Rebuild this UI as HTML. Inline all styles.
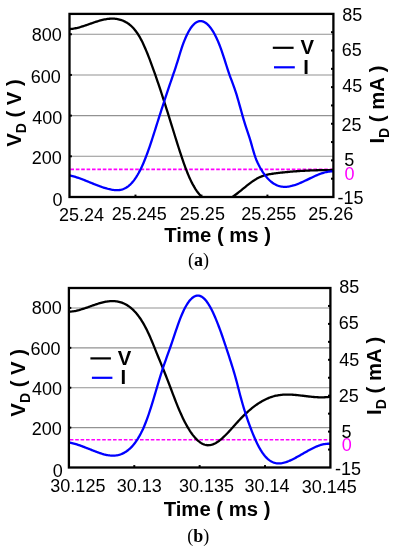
<!DOCTYPE html>
<html><head><meta charset="utf-8"><title>Figure</title>
<style>html,body{margin:0;padding:0;background:#fff;}svg{display:block;}
.tk{font-family:"Liberation Sans",Arial,sans-serif;font-size:18px;fill:#000;}
.tkm{font-family:"Liberation Sans",Arial,sans-serif;font-size:18px;fill:#ff00ff;}
.ttl{font-family:"Liberation Sans",Arial,sans-serif;font-size:20.3px;font-weight:bold;fill:#000;}
.leg{font-family:"Liberation Sans",Arial,sans-serif;font-size:20.3px;font-weight:bold;fill:#000;}
.sub{font-size:14px;font-weight:bold;}
.cap{font-family:"Liberation Serif","Times New Roman",serif;font-size:18px;fill:#000;}
.capb{font-weight:bold;}
</style></head>
<body><svg width="397" height="550" viewBox="0 0 397 550">
<rect width="397" height="550" fill="#fff"/>
<clipPath id="ca"><rect x="69.5" y="13.9" width="263.9" height="183.1"/></clipPath>
<line x1="69.5" x2="333.4" y1="156.31" y2="156.31" stroke="#929292" stroke-width="1.1"/>
<line x1="69.5" x2="333.4" y1="115.62" y2="115.62" stroke="#929292" stroke-width="1.1"/>
<line x1="69.5" x2="333.4" y1="74.93" y2="74.93" stroke="#929292" stroke-width="1.1"/>
<line x1="69.5" x2="333.4" y1="34.24" y2="34.24" stroke="#929292" stroke-width="1.1"/>
<line x1="70.4" x2="332.4" y1="169.4" y2="169.4" stroke="#ff00ff" stroke-width="1.6" stroke-dasharray="3.6 1.8"/>
<g clip-path="url(#ca)" fill="none" stroke-width="2.3" stroke-linejoin="round">
<path d="M69.5,29.08 L70.5,29.00 L71.5,28.90 L72.5,28.77 L73.5,28.62 L74.5,28.45 L75.5,28.25 L76.5,28.03 L77.5,27.80 L78.5,27.54 L79.5,27.28 L80.5,26.99 L81.5,26.70 L82.5,26.39 L83.5,26.07 L84.5,25.74 L85.5,25.41 L86.5,25.07 L87.5,24.72 L88.5,24.37 L89.5,24.02 L90.5,23.67 L91.5,23.32 L92.5,22.97 L93.5,22.62 L94.5,22.28 L95.5,21.95 L96.5,21.63 L97.5,21.31 L98.5,21.00 L99.5,20.71 L100.5,20.43 L101.5,20.17 L102.5,19.92 L103.5,19.68 L104.5,19.47 L105.5,19.28 L106.5,19.11 L107.5,18.96 L108.5,18.84 L109.5,18.75 L110.5,18.68 L111.5,18.64 L112.5,18.63 L113.5,18.65 L114.5,18.71 L115.5,18.80 L116.5,18.92 L117.5,19.08 L118.5,19.29 L119.5,19.53 L120.5,19.81 L121.5,20.14 L122.5,20.51 L123.5,20.92 L124.5,21.38 L125.5,21.90 L126.5,22.46 L127.5,23.09 L128.5,23.78 L129.5,24.53 L130.5,25.36 L131.5,26.26 L132.5,27.24 L133.5,28.30 L134.5,29.46 L135.5,30.70 L136.5,32.05 L137.5,33.49 L138.5,35.04 L139.5,36.69 L140.5,38.46 L141.5,40.35 L142.5,42.35 L143.5,44.46 L144.5,46.66 L145.5,48.96 L146.5,51.34 L147.5,53.80 L148.5,56.33 L149.5,58.92 L150.5,61.57 L151.5,64.28 L152.5,67.03 L153.5,69.81 L154.5,72.63 L155.5,75.49 L156.5,78.37 L157.5,81.29 L158.5,84.24 L159.5,87.22 L160.5,90.23 L161.5,93.26 L162.5,96.32 L163.5,99.40 L164.5,102.51 L165.5,105.64 L166.5,108.79 L167.5,111.96 L168.5,115.15 L169.5,118.36 L170.5,121.57 L171.5,124.80 L172.5,128.03 L173.5,131.27 L174.5,134.50 L175.5,137.72 L176.5,140.93 L177.5,144.12 L178.5,147.27 L179.5,150.39 L180.5,153.46 L181.5,156.47 L182.5,159.42 L183.5,162.30 L184.5,165.11 L185.5,167.82 L186.5,170.45 L187.5,172.97 L188.5,175.39 L189.5,177.68 L190.5,179.86 L191.5,181.92 L192.5,183.87 L193.5,185.70 L194.5,187.42 L195.5,189.04 L196.5,190.56 L197.5,191.98 L198.5,193.31 L199.5,194.54 L200.5,195.68 L201.5,196.74 L202.5,197.71 L203.5,198.60 L204.5,199.40 L205.5,200.13 L206.5,200.78 L207.5,201.35 L208.5,201.85 L209.5,202.28 L210.5,202.64 L211.5,202.93 L212.5,203.15 L213.5,203.31 L214.5,203.41 L215.5,203.45 L216.5,203.44 L217.5,203.36 L218.5,203.24 L219.5,203.06 L220.5,202.83 L221.5,202.55 L222.5,202.23 L223.5,201.86 L224.5,201.45 L225.5,201.00 L226.5,200.51 L227.5,199.99 L228.5,199.43 L229.5,198.85 L230.5,198.23 L231.5,197.58 L232.5,196.91 L233.5,196.21 L234.5,195.49 L235.5,194.75 L236.5,194.00 L237.5,193.23 L238.5,192.44 L239.5,191.64 L240.5,190.84 L241.5,190.03 L242.5,189.21 L243.5,188.39 L244.5,187.58 L245.5,186.77 L246.5,185.97 L247.5,185.17 L248.5,184.39 L249.5,183.62 L250.5,182.87 L251.5,182.14 L252.5,181.43 L253.5,180.75 L254.5,180.09 L255.5,179.46 L256.5,178.87 L257.5,178.31 L258.5,177.78 L259.5,177.30 L260.5,176.86 L261.5,176.45 L262.5,176.08 L263.5,175.74 L264.5,175.43 L265.5,175.14 L266.5,174.88 L267.5,174.65 L268.5,174.44 L269.5,174.24 L270.5,174.06 L271.5,173.89 L272.5,173.74 L273.5,173.60 L274.5,173.46 L275.5,173.33 L276.5,173.20 L277.5,173.07 L278.5,172.95 L279.5,172.83 L280.5,172.71 L281.5,172.60 L282.5,172.49 L283.5,172.38 L284.5,172.28 L285.5,172.17 L286.5,172.07 L287.5,171.98 L288.5,171.88 L289.5,171.79 L290.5,171.71 L291.5,171.62 L292.5,171.54 L293.5,171.46 L294.5,171.38 L295.5,171.30 L296.5,171.23 L297.5,171.16 L298.5,171.09 L299.5,171.03 L300.5,170.96 L301.5,170.90 L302.5,170.85 L303.5,170.79 L304.5,170.74 L305.5,170.68 L306.5,170.64 L307.5,170.59 L308.5,170.54 L309.5,170.50 L310.5,170.46 L311.5,170.42 L312.5,170.38 L313.5,170.35 L314.5,170.32 L315.5,170.28 L316.5,170.26 L317.5,170.23 L318.5,170.20 L319.5,170.18 L320.5,170.16 L321.5,170.14 L322.5,170.12 L323.5,170.10 L324.5,170.09 L325.5,170.07 L326.5,170.06 L327.5,170.05 L328.5,170.04 L329.5,170.03 L330.5,170.03 L331.5,170.02 L332.5,170.02 L333.4,170.02" stroke="#000"/>
<path d="M69.5,175.46 L70.5,175.67 L71.5,175.89 L72.5,176.13 L73.5,176.40 L74.5,176.67 L75.5,176.97 L76.5,177.28 L77.5,177.60 L78.5,177.94 L79.5,178.28 L80.5,178.64 L81.5,179.01 L82.5,179.39 L83.5,179.77 L84.5,180.16 L85.5,180.56 L86.5,180.96 L87.5,181.37 L88.5,181.78 L89.5,182.19 L90.5,182.60 L91.5,183.01 L92.5,183.42 L93.5,183.83 L94.5,184.23 L95.5,184.63 L96.5,185.03 L97.5,185.41 L98.5,185.80 L99.5,186.17 L100.5,186.53 L101.5,186.89 L102.5,187.23 L103.5,187.56 L104.5,187.88 L105.5,188.18 L106.5,188.47 L107.5,188.74 L108.5,189.00 L109.5,189.23 L110.5,189.45 L111.5,189.65 L112.5,189.82 L113.5,189.96 L114.5,190.07 L115.5,190.15 L116.5,190.18 L117.5,190.17 L118.5,190.11 L119.5,190.00 L120.5,189.84 L121.5,189.62 L122.5,189.33 L123.5,188.97 L124.5,188.55 L125.5,188.05 L126.5,187.47 L127.5,186.81 L128.5,186.06 L129.5,185.23 L130.5,184.29 L131.5,183.26 L132.5,182.14 L133.5,180.91 L134.5,179.58 L135.5,178.15 L136.5,176.62 L137.5,174.98 L138.5,173.24 L139.5,171.39 L140.5,169.44 L141.5,167.38 L142.5,165.21 L143.5,162.93 L144.5,160.55 L145.5,158.05 L146.5,155.44 L147.5,152.73 L148.5,149.92 L149.5,147.04 L150.5,144.08 L151.5,141.06 L152.5,138.00 L153.5,134.89 L154.5,131.75 L155.5,128.59 L156.5,125.42 L157.5,122.25 L158.5,119.10 L159.5,115.96 L160.5,112.83 L161.5,109.72 L162.5,106.63 L163.5,103.55 L164.5,100.49 L165.5,97.45 L166.5,94.42 L167.5,91.41 L168.5,88.42 L169.5,85.45 L170.5,82.50 L171.5,79.57 L172.5,76.65 L173.5,73.72 L174.5,70.77 L175.5,67.78 L176.5,64.72 L177.5,61.57 L178.5,58.33 L179.5,55.01 L180.5,51.74 L181.5,48.64 L182.5,45.71 L183.5,42.96 L184.5,40.38 L185.5,37.97 L186.5,35.74 L187.5,33.67 L188.5,31.77 L189.5,30.03 L190.5,28.45 L191.5,27.03 L192.5,25.77 L193.5,24.67 L194.5,23.71 L195.5,22.91 L196.5,22.26 L197.5,21.76 L198.5,21.40 L199.5,21.18 L200.5,21.10 L201.5,21.16 L202.5,21.36 L203.5,21.70 L204.5,22.16 L205.5,22.76 L206.5,23.48 L207.5,24.33 L208.5,25.31 L209.5,26.43 L210.5,27.67 L211.5,29.05 L212.5,30.56 L213.5,32.21 L214.5,34.00 L215.5,35.92 L216.5,37.97 L217.5,40.17 L218.5,42.51 L219.5,44.99 L220.5,47.61 L221.5,50.37 L222.5,53.27 L223.5,56.30 L224.5,59.42 L225.5,62.58 L226.5,65.73 L227.5,68.85 L228.5,71.88 L229.5,74.77 L230.5,77.53 L231.5,80.20 L232.5,82.85 L233.5,85.54 L234.5,88.34 L235.5,91.30 L236.5,94.47 L237.5,97.81 L238.5,101.27 L239.5,104.82 L240.5,108.42 L241.5,112.03 L242.5,115.59 L243.5,119.08 L244.5,122.45 L245.5,125.66 L246.5,128.68 L247.5,131.60 L248.5,134.52 L249.5,137.56 L250.5,140.82 L251.5,144.33 L252.5,147.94 L253.5,151.43 L254.5,154.69 L255.5,157.64 L256.5,160.23 L257.5,162.49 L258.5,164.53 L259.5,166.44 L260.5,168.25 L261.5,169.96 L262.5,171.57 L263.5,173.08 L264.5,174.50 L265.5,175.83 L266.5,177.06 L267.5,178.22 L268.5,179.29 L269.5,180.27 L270.5,181.18 L271.5,182.01 L272.5,182.76 L273.5,183.45 L274.5,184.06 L275.5,184.60 L276.5,185.08 L277.5,185.50 L278.5,185.85 L279.5,186.15 L280.5,186.39 L281.5,186.57 L282.5,186.71 L283.5,186.79 L284.5,186.83 L285.5,186.83 L286.5,186.78 L287.5,186.69 L288.5,186.56 L289.5,186.40 L290.5,186.21 L291.5,185.99 L292.5,185.73 L293.5,185.45 L294.5,185.15 L295.5,184.82 L296.5,184.46 L297.5,184.09 L298.5,183.70 L299.5,183.29 L300.5,182.86 L301.5,182.43 L302.5,181.98 L303.5,181.52 L304.5,181.05 L305.5,180.57 L306.5,180.09 L307.5,179.61 L308.5,179.12 L309.5,178.63 L310.5,178.15 L311.5,177.67 L312.5,177.19 L313.5,176.72 L314.5,176.26 L315.5,175.81 L316.5,175.38 L317.5,174.95 L318.5,174.54 L319.5,174.15 L320.5,173.78 L321.5,173.42 L322.5,173.09 L323.5,172.79 L324.5,172.51 L325.5,172.25 L326.5,172.03 L327.5,171.84 L328.5,171.68 L329.5,171.55 L330.5,171.46 L331.5,171.41 L332.5,171.39 L333.4,171.41" stroke="#0000ff"/>
</g>
<line x1="69.5" x2="71.9" y1="156.31" y2="156.31" stroke="#000" stroke-width="2"/>
<line x1="69.5" x2="71.9" y1="115.62" y2="115.62" stroke="#000" stroke-width="2"/>
<line x1="69.5" x2="71.9" y1="74.93" y2="74.93" stroke="#000" stroke-width="2"/>
<line x1="69.5" x2="71.9" y1="34.24" y2="34.24" stroke="#000" stroke-width="2"/>
<line x1="331.0" x2="333.4" y1="178.69" y2="178.69" stroke="#000" stroke-width="2"/>
<line x1="331.0" x2="333.4" y1="160.38" y2="160.38" stroke="#000" stroke-width="2"/>
<line x1="331.0" x2="333.4" y1="142.07" y2="142.07" stroke="#000" stroke-width="2"/>
<line x1="331.0" x2="333.4" y1="123.76" y2="123.76" stroke="#000" stroke-width="2"/>
<line x1="331.0" x2="333.4" y1="105.45" y2="105.45" stroke="#000" stroke-width="2"/>
<line x1="331.0" x2="333.4" y1="87.14" y2="87.14" stroke="#000" stroke-width="2"/>
<line x1="331.0" x2="333.4" y1="68.83" y2="68.83" stroke="#000" stroke-width="2"/>
<line x1="331.0" x2="333.4" y1="50.52" y2="50.52" stroke="#000" stroke-width="2"/>
<line x1="331.0" x2="333.4" y1="32.21" y2="32.21" stroke="#000" stroke-width="2"/>
<line x1="135.47" x2="135.47" y1="194.6" y2="197.0" stroke="#000" stroke-width="2"/>
<line x1="201.45" x2="201.45" y1="194.6" y2="197.0" stroke="#000" stroke-width="2"/>
<line x1="267.42" x2="267.42" y1="194.6" y2="197.0" stroke="#000" stroke-width="2"/>
<rect x="69.5" y="13.9" width="263.9" height="183.1" fill="none" stroke="#000" stroke-width="2.3"/>
<clipPath id="cb"><rect x="68.9" y="288.0" width="261.5" height="179.5"/></clipPath>
<line x1="68.9" x2="330.4" y1="427.61" y2="427.61" stroke="#929292" stroke-width="1.1"/>
<line x1="68.9" x2="330.4" y1="387.72" y2="387.72" stroke="#929292" stroke-width="1.1"/>
<line x1="68.9" x2="330.4" y1="347.83" y2="347.83" stroke="#929292" stroke-width="1.1"/>
<line x1="68.9" x2="330.4" y1="307.94" y2="307.94" stroke="#929292" stroke-width="1.1"/>
<line x1="69.80000000000001" x2="329.4" y1="439.8" y2="439.8" stroke="#ff00ff" stroke-width="1.6" stroke-dasharray="3.6 1.8"/>
<g clip-path="url(#cb)" fill="none" stroke-width="2.3" stroke-linejoin="round">
<path d="M68.9,311.71 L69.9,311.66 L70.9,311.58 L71.9,311.48 L72.9,311.34 L73.9,311.19 L74.9,311.01 L75.9,310.81 L76.9,310.58 L77.9,310.34 L78.9,310.09 L79.9,309.81 L80.9,309.52 L81.9,309.22 L82.9,308.91 L83.9,308.58 L84.9,308.25 L85.9,307.91 L86.9,307.57 L87.9,307.21 L88.9,306.86 L89.9,306.50 L90.9,306.15 L91.9,305.79 L92.9,305.44 L93.9,305.09 L94.9,304.75 L95.9,304.41 L96.9,304.08 L97.9,303.76 L98.9,303.45 L99.9,303.16 L100.9,302.88 L101.9,302.61 L102.9,302.36 L103.9,302.13 L104.9,301.92 L105.9,301.73 L106.9,301.56 L107.9,301.41 L108.9,301.29 L109.9,301.20 L110.9,301.13 L111.9,301.10 L112.9,301.09 L113.9,301.12 L114.9,301.18 L115.9,301.28 L116.9,301.41 L117.9,301.58 L118.9,301.79 L119.9,302.04 L120.9,302.34 L121.9,302.67 L122.9,303.06 L123.9,303.49 L124.9,303.96 L125.9,304.49 L126.9,305.07 L127.9,305.70 L128.9,306.38 L129.9,307.12 L130.9,307.92 L131.9,308.77 L132.9,309.69 L133.9,310.67 L134.9,311.72 L135.9,312.83 L136.9,314.02 L137.9,315.27 L138.9,316.60 L139.9,318.00 L140.9,319.48 L141.9,321.04 L142.9,322.68 L143.9,324.40 L144.9,326.21 L145.9,328.10 L146.9,330.08 L147.9,332.15 L148.9,334.32 L149.9,336.56 L150.9,338.88 L151.9,341.25 L152.9,343.67 L153.9,346.12 L154.9,348.60 L155.9,351.08 L156.9,353.56 L157.9,356.03 L158.9,358.49 L159.9,360.94 L160.9,363.39 L161.9,365.84 L162.9,368.30 L163.9,370.77 L164.9,373.27 L165.9,375.78 L166.9,378.32 L167.9,380.90 L168.9,383.50 L169.9,386.13 L170.9,388.77 L171.9,391.42 L172.9,394.05 L173.9,396.68 L174.9,399.28 L175.9,401.84 L176.9,404.36 L177.9,406.83 L178.9,409.24 L179.9,411.58 L180.9,413.84 L181.9,416.03 L182.9,418.15 L183.9,420.19 L184.9,422.15 L185.9,424.04 L186.9,425.86 L187.9,427.59 L188.9,429.25 L189.9,430.83 L190.9,432.33 L191.9,433.76 L192.9,435.10 L193.9,436.36 L194.9,437.54 L195.9,438.64 L196.9,439.65 L197.9,440.59 L198.9,441.44 L199.9,442.20 L200.9,442.88 L201.9,443.48 L202.9,443.99 L203.9,444.41 L204.9,444.75 L205.9,445.00 L206.9,445.16 L207.9,445.23 L208.9,445.22 L209.9,445.12 L210.9,444.93 L211.9,444.67 L212.9,444.34 L213.9,443.94 L214.9,443.46 L215.9,442.92 L216.9,442.33 L217.9,441.67 L218.9,440.96 L219.9,440.20 L220.9,439.39 L221.9,438.53 L222.9,437.64 L223.9,436.71 L224.9,435.74 L225.9,434.74 L226.9,433.72 L227.9,432.67 L228.9,431.60 L229.9,430.52 L230.9,429.42 L231.9,428.31 L232.9,427.19 L233.9,426.07 L234.9,424.95 L235.9,423.83 L236.9,422.72 L237.9,421.62 L238.9,420.53 L239.9,419.46 L240.9,418.40 L241.9,417.37 L242.9,416.36 L243.9,415.37 L244.9,414.40 L245.9,413.45 L246.9,412.53 L247.9,411.62 L248.9,410.74 L249.9,409.88 L250.9,409.04 L251.9,408.22 L252.9,407.43 L253.9,406.66 L254.9,405.91 L255.9,405.19 L256.9,404.48 L257.9,403.80 L258.9,403.15 L259.9,402.52 L260.9,401.91 L261.9,401.32 L262.9,400.76 L263.9,400.23 L264.9,399.71 L265.9,399.23 L266.9,398.76 L267.9,398.33 L268.9,397.91 L269.9,397.53 L270.9,397.16 L271.9,396.83 L272.9,396.52 L273.9,396.23 L274.9,395.97 L275.9,395.74 L276.9,395.53 L277.9,395.34 L278.9,395.17 L279.9,395.03 L280.9,394.91 L281.9,394.81 L282.9,394.72 L283.9,394.66 L284.9,394.61 L285.9,394.58 L286.9,394.56 L287.9,394.56 L288.9,394.58 L289.9,394.60 L290.9,394.64 L291.9,394.69 L292.9,394.75 L293.9,394.82 L294.9,394.90 L295.9,394.99 L296.9,395.09 L297.9,395.19 L298.9,395.30 L299.9,395.41 L300.9,395.52 L301.9,395.64 L302.9,395.76 L303.9,395.89 L304.9,396.01 L305.9,396.13 L306.9,396.25 L307.9,396.37 L308.9,396.49 L309.9,396.60 L310.9,396.71 L311.9,396.81 L312.9,396.91 L313.9,397.00 L314.9,397.08 L315.9,397.15 L316.9,397.21 L317.9,397.26 L318.9,397.30 L319.9,397.33 L320.9,397.35 L321.9,397.35 L322.9,397.33 L323.9,397.31 L324.9,397.26 L325.9,397.20 L326.9,397.12 L327.9,397.02 L328.9,396.90 L329.9,396.76 L330.4,396.68" stroke="#000"/>
<path d="M68.9,442.40 L69.9,442.59 L70.9,442.81 L71.9,443.04 L72.9,443.30 L73.9,443.56 L74.9,443.85 L75.9,444.15 L76.9,444.46 L77.9,444.78 L78.9,445.12 L79.9,445.46 L80.9,445.82 L81.9,446.18 L82.9,446.55 L83.9,446.93 L84.9,447.32 L85.9,447.71 L86.9,448.10 L87.9,448.50 L88.9,448.90 L89.9,449.30 L90.9,449.69 L91.9,450.09 L92.9,450.49 L93.9,450.88 L94.9,451.27 L95.9,451.66 L96.9,452.03 L97.9,452.40 L98.9,452.76 L99.9,453.11 L100.9,453.44 L101.9,453.75 L102.9,454.05 L103.9,454.33 L104.9,454.58 L105.9,454.81 L106.9,455.02 L107.9,455.20 L108.9,455.35 L109.9,455.47 L110.9,455.56 L111.9,455.61 L112.9,455.63 L113.9,455.61 L114.9,455.55 L115.9,455.44 L116.9,455.30 L117.9,455.11 L118.9,454.87 L119.9,454.58 L120.9,454.24 L121.9,453.85 L122.9,453.40 L123.9,452.90 L124.9,452.34 L125.9,451.72 L126.9,451.04 L127.9,450.29 L128.9,449.48 L129.9,448.60 L130.9,447.65 L131.9,446.62 L132.9,445.51 L133.9,444.31 L134.9,443.03 L135.9,441.65 L136.9,440.18 L137.9,438.62 L138.9,436.95 L139.9,435.17 L140.9,433.28 L141.9,431.28 L142.9,429.16 L143.9,426.91 L144.9,424.55 L145.9,422.05 L146.9,419.42 L147.9,416.66 L148.9,413.75 L149.9,410.73 L150.9,407.60 L151.9,404.39 L152.9,401.11 L153.9,397.77 L154.9,394.40 L155.9,391.01 L156.9,387.62 L157.9,384.24 L158.9,380.89 L159.9,377.60 L160.9,374.37 L161.9,371.23 L162.9,368.19 L163.9,365.23 L164.9,362.35 L165.9,359.52 L166.9,356.72 L167.9,353.94 L168.9,351.15 L169.9,348.35 L170.9,345.50 L171.9,342.59 L172.9,339.64 L173.9,336.66 L174.9,333.67 L175.9,330.70 L176.9,327.77 L177.9,324.90 L178.9,322.11 L179.9,319.42 L180.9,316.86 L181.9,314.45 L182.9,312.17 L183.9,310.04 L184.9,308.06 L185.9,306.22 L186.9,304.53 L187.9,302.98 L188.9,301.58 L189.9,300.32 L190.9,299.22 L191.9,298.26 L192.9,297.45 L193.9,296.78 L194.9,296.27 L195.9,295.90 L196.9,295.68 L197.9,295.62 L198.9,295.70 L199.9,295.93 L200.9,296.32 L201.9,296.86 L202.9,297.54 L203.9,298.38 L204.9,299.38 L205.9,300.52 L206.9,301.81 L207.9,303.25 L208.9,304.82 L209.9,306.53 L210.9,308.35 L211.9,310.30 L212.9,312.36 L213.9,314.53 L214.9,316.79 L215.9,319.16 L216.9,321.61 L217.9,324.15 L218.9,326.76 L219.9,329.45 L220.9,332.20 L221.9,335.01 L222.9,337.88 L223.9,340.80 L224.9,343.76 L225.9,346.76 L226.9,349.80 L227.9,352.86 L228.9,355.94 L229.9,359.04 L230.9,362.16 L231.9,365.30 L232.9,368.51 L233.9,371.82 L234.9,375.24 L235.9,378.82 L236.9,382.57 L237.9,386.43 L238.9,390.32 L239.9,394.17 L240.9,397.90 L241.9,401.49 L242.9,404.96 L243.9,408.30 L244.9,411.53 L245.9,414.64 L246.9,417.65 L247.9,420.56 L248.9,423.38 L249.9,426.11 L250.9,428.77 L251.9,431.34 L252.9,433.84 L253.9,436.24 L254.9,438.56 L255.9,440.79 L256.9,442.92 L257.9,444.95 L258.9,446.88 L259.9,448.69 L260.9,450.39 L261.9,451.98 L262.9,453.44 L263.9,454.79 L264.9,456.03 L265.9,457.15 L266.9,458.17 L267.9,459.08 L268.9,459.90 L269.9,460.62 L270.9,461.25 L271.9,461.79 L272.9,462.24 L273.9,462.62 L274.9,462.92 L275.9,463.14 L276.9,463.30 L277.9,463.38 L278.9,463.41 L279.9,463.38 L280.9,463.29 L281.9,463.15 L282.9,462.96 L283.9,462.72 L284.9,462.45 L285.9,462.14 L286.9,461.79 L287.9,461.42 L288.9,461.02 L289.9,460.59 L290.9,460.15 L291.9,459.68 L292.9,459.19 L293.9,458.69 L294.9,458.17 L295.9,457.64 L296.9,457.10 L297.9,456.55 L298.9,455.98 L299.9,455.42 L300.9,454.84 L301.9,454.27 L302.9,453.69 L303.9,453.11 L304.9,452.53 L305.9,451.96 L306.9,451.39 L307.9,450.83 L308.9,450.28 L309.9,449.74 L310.9,449.21 L311.9,448.70 L312.9,448.20 L313.9,447.71 L314.9,447.25 L315.9,446.81 L316.9,446.39 L317.9,445.99 L318.9,445.62 L319.9,445.28 L320.9,444.96 L321.9,444.68 L322.9,444.43 L323.9,444.22 L324.9,444.04 L325.9,443.89 L326.9,443.79 L327.9,443.73 L328.9,443.71 L329.9,443.74 L330.4,443.77" stroke="#0000ff"/>
</g>
<line x1="68.9" x2="71.30000000000001" y1="427.61" y2="427.61" stroke="#000" stroke-width="2"/>
<line x1="68.9" x2="71.30000000000001" y1="387.72" y2="387.72" stroke="#000" stroke-width="2"/>
<line x1="68.9" x2="71.30000000000001" y1="347.83" y2="347.83" stroke="#000" stroke-width="2"/>
<line x1="68.9" x2="71.30000000000001" y1="307.94" y2="307.94" stroke="#000" stroke-width="2"/>
<line x1="328.0" x2="330.4" y1="449.55" y2="449.55" stroke="#000" stroke-width="2"/>
<line x1="328.0" x2="330.4" y1="431.60" y2="431.60" stroke="#000" stroke-width="2"/>
<line x1="328.0" x2="330.4" y1="413.65" y2="413.65" stroke="#000" stroke-width="2"/>
<line x1="328.0" x2="330.4" y1="395.70" y2="395.70" stroke="#000" stroke-width="2"/>
<line x1="328.0" x2="330.4" y1="377.75" y2="377.75" stroke="#000" stroke-width="2"/>
<line x1="328.0" x2="330.4" y1="359.80" y2="359.80" stroke="#000" stroke-width="2"/>
<line x1="328.0" x2="330.4" y1="341.85" y2="341.85" stroke="#000" stroke-width="2"/>
<line x1="328.0" x2="330.4" y1="323.90" y2="323.90" stroke="#000" stroke-width="2"/>
<line x1="328.0" x2="330.4" y1="305.95" y2="305.95" stroke="#000" stroke-width="2"/>
<line x1="134.28" x2="134.28" y1="465.1" y2="467.5" stroke="#000" stroke-width="2"/>
<line x1="199.65" x2="199.65" y1="465.1" y2="467.5" stroke="#000" stroke-width="2"/>
<line x1="265.02" x2="265.02" y1="465.1" y2="467.5" stroke="#000" stroke-width="2"/>
<rect x="68.9" y="288.0" width="261.5" height="179.5" fill="none" stroke="#000" stroke-width="2.3"/>
<line x1="272.8" x2="293.6" y1="47.8" y2="47.8" stroke="#000" stroke-width="2.2"/>
<line x1="274.0" x2="294.8" y1="67.3" y2="67.3" stroke="#0000ff" stroke-width="2.2"/>
<line x1="90.4" x2="110.9" y1="358.4" y2="358.4" stroke="#000" stroke-width="2.2"/>
<line x1="91.9" x2="112.4" y1="377.8" y2="377.8" stroke="#0000ff" stroke-width="2.2"/>
<text class="tk" x="31.75" y="40.55">800</text>
<text class="tk" x="30.65" y="82.50">600</text>
<text class="tk" x="32.25" y="123.75">400</text>
<text class="tk" x="31.75" y="163.70">200</text>
<text class="tk" x="52.50" y="206.20">0</text>
<text class="tk" x="59.05" y="220.60">25.24</text>
<text class="tk" x="111.65" y="220.45">25.245</text>
<text class="tk" x="179.85" y="220.45">25.25</text>
<text class="tk" x="241.20" y="220.35">25.255</text>
<text class="tk" x="308.20" y="220.45">25.26</text>
<text class="tk" x="342.20" y="20.50">85</text>
<text class="tk" x="341.80" y="55.90">65</text>
<text class="tk" x="342.30" y="92.45">45</text>
<text class="tk" x="341.55" y="130.60">25</text>
<text class="tk" x="344.20" y="165.95">5</text>
<text class="tkm" x="344.45" y="179.60">0</text>
<text class="tk" x="337.55" y="203.85">-15</text>
<text class="ttl" x="164.30" y="242.25">Time ( ms )</text>
<text class="cap" x="187.90" y="265.75">(<tspan class="capb">a</tspan>)</text>
<text class="leg" x="300.60" y="53.80">V</text>
<text class="leg" x="303.35" y="73.65">I</text>
<text class="ttl" transform="translate(21.05,146.85) rotate(-90)" x="0" y="0">V<tspan class="sub" dy="5">D</tspan><tspan dy="-5"> ( V )</tspan></text>
<text class="ttl" transform="translate(383.90,143.55) rotate(-90)" x="0" y="0">I<tspan class="sub" dy="5">D</tspan><tspan dy="-5"> ( mA )</tspan></text>
<text class="tk" x="31.70" y="313.50">800</text>
<text class="tk" x="30.50" y="354.50">600</text>
<text class="tk" x="32.00" y="394.90">400</text>
<text class="tk" x="31.75" y="435.05">200</text>
<text class="tk" x="52.75" y="477.30">0</text>
<text class="tk" x="50.35" y="492.40">30.125</text>
<text class="tk" x="116.65" y="492.40">30.13</text>
<text class="tk" x="178.90" y="492.40">30.135</text>
<text class="tk" x="244.45" y="492.40">30.14</text>
<text class="tk" x="301.80" y="492.50">30.145</text>
<text class="tk" x="339.30" y="293.25">85</text>
<text class="tk" x="338.75" y="328.90">65</text>
<text class="tk" x="339.25" y="365.55">45</text>
<text class="tk" x="338.75" y="401.80">25</text>
<text class="tk" x="341.40" y="437.50">5</text>
<text class="tkm" x="341.75" y="450.75">0</text>
<text class="tk" x="334.95" y="475.35">-15</text>
<text class="ttl" x="163.70" y="515.80">Time ( ms )</text>
<text class="cap" x="187.15" y="542.20">(<tspan class="capb">b</tspan>)</text>
<text class="leg" x="117.70" y="364.60">V</text>
<text class="leg" x="120.45" y="384.05">I</text>
<text class="ttl" transform="translate(24.60,416.65) rotate(-90)" x="0" y="0">V<tspan class="sub" dy="5">D</tspan><tspan dy="-5"> ( V )</tspan></text>
<text class="ttl" transform="translate(380.90,414.90) rotate(-90)" x="0" y="0">I<tspan class="sub" dy="5">D</tspan><tspan dy="-5"> ( mA )</tspan></text>
</svg></body></html>
